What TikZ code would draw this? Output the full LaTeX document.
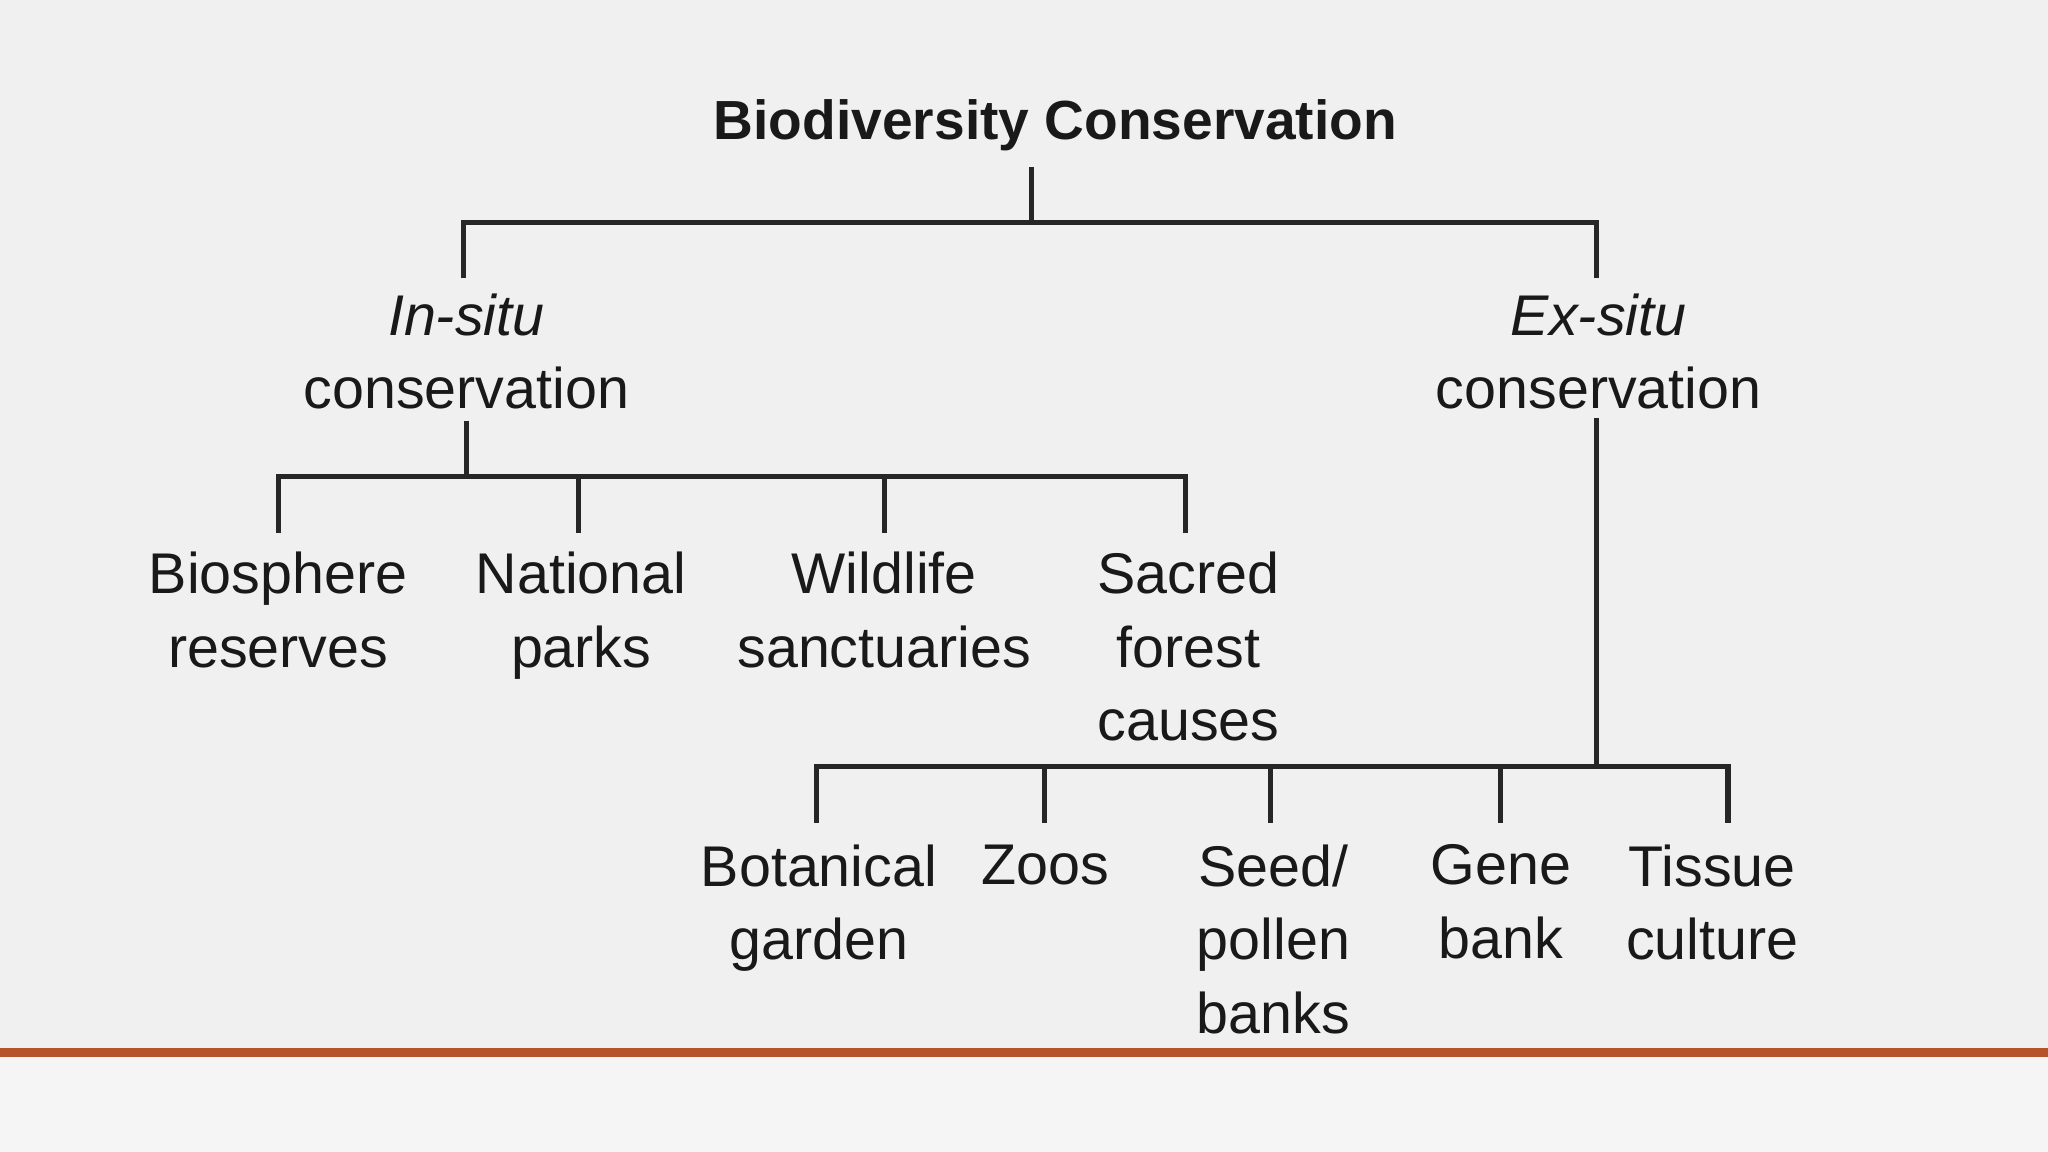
\documentclass[tikz,border=0pt]{standalone}
\usepackage{fontspec}
\setmainfont{Liberation Sans}
\begin{document}
\begin{tikzpicture}[x=0.01cm,y=-0.01cm,
  lbl/.style={font=\fontsize{12.5}{16}\selectfont,align=center,inner sep=0pt,anchor=north,text=black!90},
  conn/.style={line width=1.1pt,black!85}]
\useasboundingbox (0,0) rectangle (1568,882);
\fill[gray!12] (0,0) rectangle (1568,882);
\fill[gray!8] (0,806) rectangle (1568,882);
\draw[line width=2pt,color={rgb,255:red,181;green,83;blue,42}] (0,806) -- (1568,806);
\node[lbl,anchor=center,font=\bfseries\fontsize{12}{15}\selectfont] (t) at (808,96) {Biodiversity Conservation};
\node[lbl] (ins) at (357,224) {\itshape In-situ\\conservation};
\node[lbl] (exs) at (1224,224) {\itshape Ex-situ\\conservation};
\node[lbl] (a1) at (213,422) {Biosphere\\reserves};
\node[lbl] (a2) at (445,422) {National\\parks};
\node[lbl] (a3) at (677,422) {Wildlife\\sanctuaries};
\node[lbl] (a4) at (910,422) {Sacred\\forest\\causes};
\node[lbl] (b1) at (627,646) {Botanical\\garden};
\node[lbl] (b2) at (800,646) {Zoos};
\node[lbl] (b3) at (975,646) {Seed/\\pollen\\banks};
\node[lbl] (b4) at (1149,646) {Gene\\bank};
\node[lbl] (b5) at (1311,646) {Tissue\\culture};
\coordinate (j0) at (790,170);
\draw[conn] (790,128) -- (j0);
\draw[conn] (355,213) -- (355,170) -- (1222,170) -- (1222,213);
\draw[conn] (357,322) -- (357,365);
\draw[conn] (213,408) -- (213,365) -- (908,365) -- (908,408);
\draw[conn] (443,365) -- (443,408);
\draw[conn] (677,365) -- (677,408);
\draw[conn] (1222,320) -- (1222,587);
\draw[conn] (625,630) -- (625,587) -- (1323,587) -- (1323,630);
\draw[conn] (800,587) -- (800,630);
\draw[conn] (973,587) -- (973,630);
\draw[conn] (1149,587) -- (1149,630);
\end{tikzpicture}
\end{document}
